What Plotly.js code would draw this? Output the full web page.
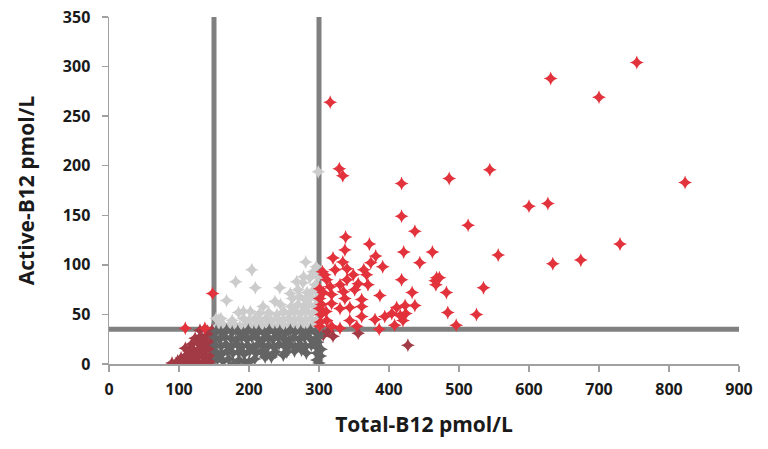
<!DOCTYPE html>
<html>
<head>
<meta charset="utf-8">
<script src="https://cdn.plot.ly/plotly-3.0.1.min.js"></script>
<style>html,body{margin:0;padding:0;background:#fff;}#chart{width:768px;height:449px;}</style>
</head>
<body>
<div id="chart"></div>
<script>
// Cut-off values
const cutX = [150, 300];
const cutY = [35];
const xTicks = [0,100,200,300,400,500,600,700,800,900];
const yTicks = [0,50,100,150,200,250,300,350];

// Red: Active-B12 above cut-off
const redX = [754,631,700,316,329,334,418,823,486,544,627,600,418,513,437,338,730,372,556,634,674,421,462,444,418,466,472,467,433,482,535,423,437,424,420,484,525,496,
  337,381,320,374,334,391,305,323,340,364,368,349,311,340,370,356,330,316,301,387,335,351,318,301,361,337,301,318,344,330,361,411,404,416,361,394,311,344,380,386,408,301,318,330,354,
  303,306,304,308,302,310,468,148,109,137];
const redY = [304,288,269,264,197,190,182,183,187,196,162,159,149,140,134,128,121,121,110,101,105,113,113,102,85,84,87,80,72,72,77,59,59,51,44,52,50,39,
  115,109,107,102,103,98,93,95,96,95,90,90,85,85,80,81,80,78,76,69,73,75,70,66,65,66,56,61,57,56,58,57,51,49,48,48,44,44,45,35,39,38,38,36,38,
  50,72,60,90,42,53,87,71,36,36];

// Light grey
const lgX = [299,204,181,209,244,259,237,168,192,153,157,
  155,163,171,179,187,195,203,211,219,227,235,243,251,259,267,275,283,291,298,
  160,176,192,200,208,216,224,232,240,248,256,264,272,280,288,296,
  185,202,215,228,240,250,258,266,274,282,290,297,
  220,245,260,270,278,286,294,299,
  262,272,280,288,296,
  270,283,291,298,
  268,277,287,278,295,292,299,281,296];
const lgY = [194,95,83,77,77,71,63,64,53,46,45,
  38,40,38,40,38,40,38,40,38,40,38,40,38,40,38,40,38,40,38,
  46,44,46,44,46,44,46,44,46,44,46,44,46,44,46,44,
  52,53,51,52,50,53,51,53,51,53,51,53,
  58,60,58,60,58,60,58,61,
  66,68,65,67,66,
  75,72,74,72,
  83,82,87,88,80,93,88,103,98];

// Dark red
const drX = [90,98,104,110,116,122,128,134,140,146,
  103,109,115,121,127,133,139,145,
  109,114,120,126,132,138,144,149,
  118,123,128,134,140,146,
  131,137,143,148,130,141,147,
  306,320,313,356,427];
const drY = [1,3,1,2,1,3,1,2,1,3,
  6,8,6,9,7,9,7,9,
  16,13,15,13,16,14,16,13,
  20,26,21,22,20,22,
  28,27,29,27,34,33,34,
  29,28,33,31,19];

// Dark grey
const dgX = [153,160,168,176,184,192,199,207,214,222,229,237,244,252,259,266,274,281,288,295,300,
  151,158,166,174,181,189,197,204,212,219,227,234,242,249,257,264,272,279,287,294,299,
  152,160,167,175,183,190,198,206,213,221,228,236,243,251,258,266,273,281,289,297,
  153,161,169,177,185,193,201,210,218,226,238,254,265,282,297,
  155,163,171,178,186,194,200,208,223,232,249,275,297,300,
  220,256,298,303,302];
const dgY = [33,32,34,32,33,31,34,32,33,31,34,32,33,31,34,32,33,31,34,32,30,
  27,25,27,26,24,27,25,27,26,24,27,25,27,26,24,27,25,27,26,24,27,
  19,18,20,18,20,18,19,17,20,18,19,17,20,18,19,17,20,18,19,17,
  12,10,13,11,12,10,13,11,12,10,12,12,13,11,11,
  5,3,5,0,4,2,2,5,7,7,9,14,4,1,
  14,21,22,15,8];

const mk = (c) => ({symbol:'star-diamond', size:10, color:c, line:{width:0}});
const traces = [
  {x:lgX, y:lgY, type:'scatter', mode:'markers', marker:mk('#cccccc'), hoverinfo:'x+y'},
  {x:drX, y:drY, type:'scatter', mode:'markers', marker:mk('#a23a45'), hoverinfo:'x+y'},
  {x:dgX, y:dgY, type:'scatter', mode:'markers', marker:mk('#646464'), hoverinfo:'x+y'},
  {x:redX, y:redY, type:'scatter', mode:'markers', marker:mk('#e2323c'), hoverinfo:'x+y'}
];

const lineStyle = {color:'#808080', width:5};
const shapes = [];
cutX.forEach(v => shapes.push({type:'line', xref:'x', yref:'y', x0:v, x1:v, y0:0, y1:350, line:lineStyle, layer:'below'}));
cutY.forEach(v => shapes.push({type:'line', xref:'x', yref:'y', x0:0, x1:900, y0:v, y1:v, line:lineStyle, layer:'below'}));

const tickFont = {family:'Open Sans, sans-serif', size:16, color:'#1a1a1a', weight:'bold'};
const titleFont = {family:'Open Sans, sans-serif', size:21, color:'#1a1a1a', weight:'bold'};
const layout = {
  width:768, height:449,
  margin:{l:109, r:29, t:17, b:85},
  paper_bgcolor:'#ffffff', plot_bgcolor:'#ffffff',
  showlegend:false,
  shapes:shapes,
  xaxis:{
    range:[0,900], tickvals:xTicks, ticktext:xTicks.map(String),
    showgrid:false, zeroline:false, showline:true, linecolor:'#a0a0a0', linewidth:1.5,
    ticks:'outside', ticklen:6, tickcolor:'#a0a0a0', tickwidth:1.5,
    ticklabelstandoff:4,
    tickfont:tickFont, fixedrange:true,
    title:{text:'Total-B12 pmol/L', font:titleFont, standoff:18}
  },
  yaxis:{
    range:[0,350], tickvals:yTicks, ticktext:yTicks.map(String),
    showgrid:false, zeroline:false, showline:true, linecolor:'#a0a0a0', linewidth:1.5,
    ticks:'outside', ticklen:6, tickcolor:'#a0a0a0', tickwidth:1.5,
    ticklabelstandoff:8,
    tickfont:tickFont, fixedrange:true,
    title:{text:'Active-B12 pmol/L', font:titleFont, standoff:22}
  }
};
Plotly.newPlot('chart', traces, layout, {displayModeBar:false, staticPlot:true});
</script>
</body>
</html>
